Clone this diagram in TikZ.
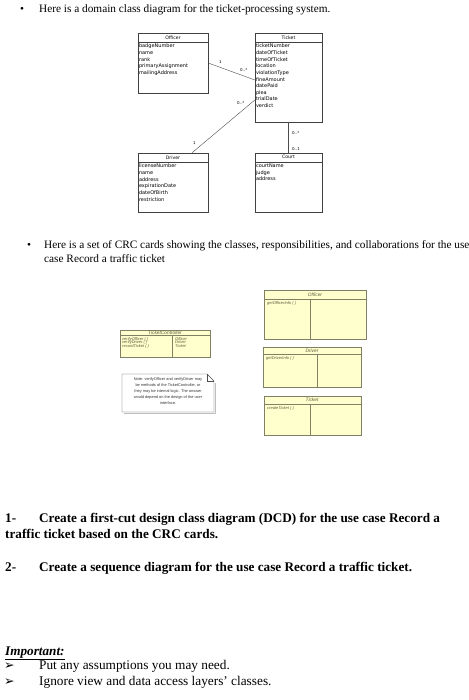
\documentclass[tikz,border=0pt]{standalone}
\usepackage{fontspec}
\setmainfont{Liberation Serif}
\newfontfamily\umlfont{DejaVu Sans}
\newfontfamily\crcfont{Liberation Sans}
\newfontfamily\symfont{DejaVu Sans}

\definecolor{crcfill}{RGB}{255,255,206}
\definecolor{crcline}{RGB}{128,128,100}
\definecolor{crctxt}{RGB}{90,90,60}

\tikzset{
  classbox/.style={draw=black!75, line width=0.4pt, inner sep=0pt},
  classname/.style={font=\umlfont\fontsize{4.6}{5}\selectfont, inner sep=0pt},
  attrs/.style={anchor=north west, align=left, inner sep=0pt, font=\umlfont\fontsize{5}{6.65}\selectfont},
  mult/.style={font=\umlfont\fontsize{4}{4}\selectfont, inner sep=0pt, anchor=west},
  crccard/.style={draw=crcline, fill=crcfill, line width=0.5pt, inner sep=0pt},
  crchead/.style={font=\crcfont\itshape\fontsize{4.8}{5}\selectfont, inner sep=0pt, text=crctxt},
  crctext/.style={font=\crcfont\itshape\fontsize{4}{3.8}\selectfont, inner sep=0pt, text=crctxt, anchor=north west, align=left},
  notetext/.style={font=\crcfont\fontsize{3.9}{6}\selectfont, inner sep=0pt, align=center, text=black!80},
  prose/.style={anchor=base west, inner sep=0pt, font=\fontsize{11.3}{14.3}\selectfont},
  task/.style={anchor=base west, inner sep=0pt, font=\bfseries\fontsize{13.2}{17}\selectfont},
  plain/.style={anchor=base west, inner sep=0pt, font=\fontsize{13.3}{16}\selectfont},
  arrowmark/.style={anchor=base west, inner sep=0pt, font=\symfont\fontsize{12.5}{14}\selectfont},
}

\begin{document}
\begin{tikzpicture}[x=1pt, y=-1pt]
  \useasboundingbox[fill=white] (0,0) rectangle (468,700);

  % first bullet
  \node[prose] (b1) at (20,12.5) {\textbullet};
  \node[prose] (t1) at (39,12.5) {Here is a domain class diagram for the ticket-processing system.};

  % domain classes
  \node[classbox, minimum width=70pt, minimum height=60pt] (officer) at (173,63) {};
  \node[classbox, minimum width=67pt, minimum height=89pt] (ticket) at (288.5,77.5) {};
  \node[classbox, minimum width=70pt, minimum height=59pt] (driver) at (173,182.5) {};
  \node[classbox, minimum width=67pt, minimum height=59pt] (court) at (288.5,182.5) {};

  \foreach \c in {officer, ticket, driver, court}
    \draw[black!75, line width=0.4pt] ([yshift=-9pt]\c.north west) -- ([yshift=-9pt]\c.north east);

  \node[classname] at ([yshift=-4.5pt]officer.north) {Officer};
  \node[classname] at ([yshift=-4.5pt]ticket.north) {Ticket};
  \node[classname] at ([yshift=-4.5pt]driver.north) {Driver};
  \node[classname] at ([yshift=-4.5pt]court.north) {Court};

  \node[attrs] (offattr) at ([xshift=1pt, yshift=-11pt]officer.north west)
    {badgeNumber\\name\\rank\\primaryAssignment\\mailingAddress};
  \node[attrs] (tktattr) at ([xshift=1pt, yshift=-11pt]ticket.north west)
    {ticketNumber\\dateOfTicket\\timeOfTicket\\location\\violationType\\fineAmount\\datePaid\\plea\\trialDate\\verdict};
  \node[attrs] (drvattr) at ([xshift=1pt, yshift=-11pt]driver.north west)
    {licenseNumber\\name\\address\\expirationDate\\dateOfBirth\\restriction};
  \node[attrs] (crtattr) at ([xshift=1pt, yshift=-11pt]court.north west)
    {courtName\\judge\\address};

  % associations
  \draw[black!70, line width=0.4pt] (officer.east) -- ([yshift=-2.5pt]ticket.west);
  \draw[black!70, line width=0.4pt] ([yshift=-22.5pt]ticket.west) -- ([xshift=19pt]driver.north);
  \draw[black!70, line width=0.4pt] (ticket.south) -- (court.north);

  \node[mult] at (219,62) {1};
  \node[mult] at (240,70) {0..*};
  \node[mult] at (237,103) {0..*};
  \node[mult] at (193,143) {1};
  \node[mult] at (292,133) {0..*};
  \node[mult] at (292,149) {0..1};

  % second bullet
  \node[prose] (b2) at (27,249) {\textbullet};
  \node[prose] (t2) at (44,249) {Here is a set of CRC cards showing the classes, responsibilities, and collaborations for the use};
  \node[prose] (t3) at (44,262.5) {case Record a traffic ticket};

  % CRC cards
  \draw[crccard] (264,290) rectangle (366,339);
  \draw[crcline, line width=0.5pt] (264,299) -- (366,299) (310,299) -- (310,339);
  \node[crchead] (crcoff) at (315,294.5) {Officer};
  \node[crctext] at (267,301) {getOfficerInfo ( )};

  \draw[crccard] (263,347) rectangle (361,387);
  \draw[crcline, line width=0.5pt] (263,354) -- (361,354) (317,354) -- (317,387);
  \node[crchead] (crcdrv) at (312,350.5) {Driver};
  \node[crctext] at (266,356) {getDriverInfo ( )};

  \draw[crccard] (264,396) rectangle (361,435);
  \draw[crcline, line width=0.5pt] (264,404) -- (361,404) (310,404) -- (310,435);
  \node[crchead] (crctkt) at (312,400) {Ticket};
  \node[crctext] at (267,406) {createTicket ( )};

  \draw[crccard] (120,330) rectangle (210,357);
  \draw[crcline, line width=0.5pt] (120,335.5) -- (210,335.5) (172,335.5) -- (172,357);
  \node[crchead] (crcctl) at (165,332.8) {TicketController};
  \node[crctext] at (122,337) {verifyOfficer ( )\\verifyDriver ( )\\recordTicket ( )};
  \node[crctext] at (175,337) {Officer\\Driver\\Ticket};

  % note
  \draw[black!25, line width=0.6pt] (123.5,413.5) -- (215.5,413.5) -- (215.5,382.5);
  \draw[black!70, fill=white, line width=0.4pt] (122,374) -- (207,374) -- (214,381) -- (214,412) -- (122,412) -- cycle;
  \draw[black!70, line width=0.4pt] (207,374) -- (207,381) -- (214,381);
  \node[notetext] (note) at (168,391) {Note: verifyOfficer and verifyDriver may\\be methods of the TicketController, or\\they may be internal logic.  The answer\\would depend on the design of the user\\interface.};

  % tasks
  \node[task] (n1) at (5,522) {1-};
  \node[task] (q1) at (39,522) {Create a first-cut design class diagram (DCD) for the use case Record a};
  \node[task] (q1b) at (5,538) {traffic ticket based on the CRC cards.};
  \node[task] (n2) at (5,571) {2-};
  \node[task] (q2) at (39,571) {Create a sequence diagram for the use case Record a traffic ticket.};

  \node[task, font=\bfseries\itshape\fontsize{13.2}{16}\selectfont] (imp) at (5,655) {\underline{Important:}};
  \node[arrowmark] (a1) at (4,669.5) {➢};
  \node[plain] (p1) at (39,669) {Put any assumptions you may need.};
  \node[arrowmark] (a2) at (4,685.5) {➢};
  \node[plain] (p2) at (39,685) {Ignore view and data access layers’ classes.};
\end{tikzpicture}
\end{document}
